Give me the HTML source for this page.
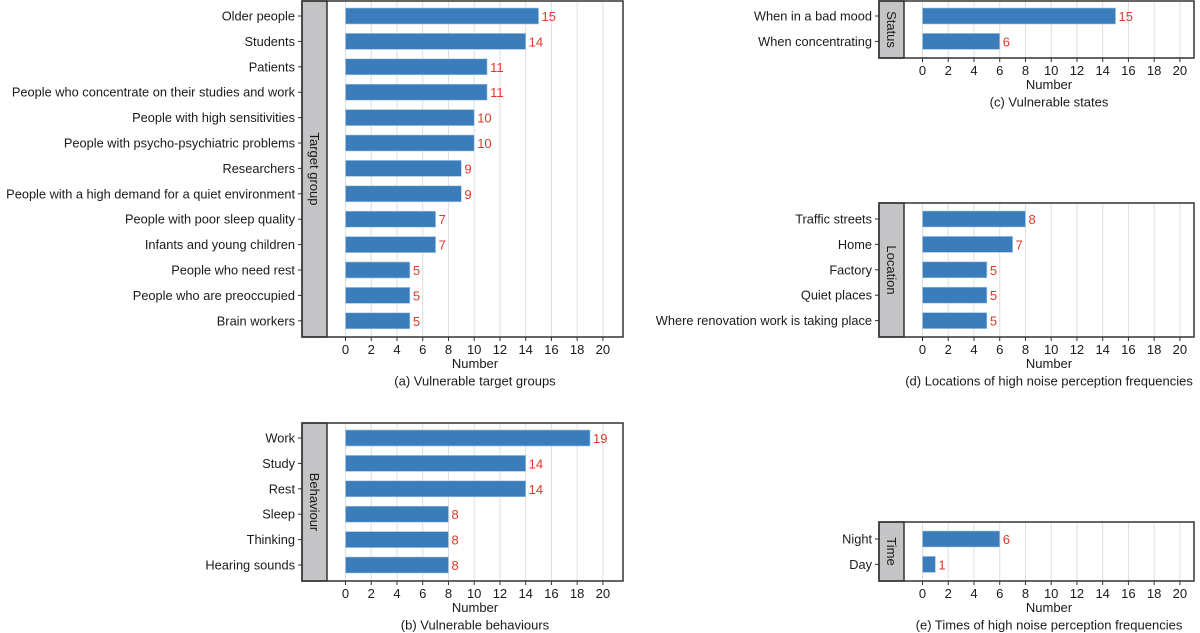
<!DOCTYPE html>
<html><head><meta charset="utf-8"><style>
html,body{margin:0;padding:0;background:#fff;}
svg{display:block;font-family:"Liberation Sans",Arial,sans-serif;}
</style></head><body>
<svg id="chart" width="1200" height="633" viewBox="0 0 1200 633"></svg>
<script>
const catsA=["Older people","Students","Patients","People who concentrate on their studies and work","People with high sensitivities","People with psycho-psychiatric problems","Researchers","People with a high demand for a quiet environment","People with poor sleep quality","Infants and young children","People who need rest","People who are preoccupied","Brain workers"];
const valsA=[15,14,11,11,10,10,9,9,7,7,5,5,5];
const catsB=["Work","Study","Rest","Sleep","Thinking","Hearing sounds"];
const valsB=[19,14,14,8,8,8];
const catsC=["When in a bad mood","When concentrating"];
const valsC=[15,6];
const catsD=["Traffic streets","Home","Factory","Quiet places","Where renovation work is taking place"];
const valsD=[8,7,5,5,5];
const catsE=["Night","Day"];
const valsE=[6,1];
const ticks=[0,2,4,6,8,10,12,14,16,18,20];

const svg=document.getElementById('chart');
const NS="http://www.w3.org/2000/svg";
function mk(tag,attrs,parent,text){const e=document.createElementNS(NS,tag);for(const k in attrs)e.setAttribute(k,attrs[k]);if(text!==undefined)e.textContent=text;parent.appendChild(e);return e;}

function panel(name,cats,vals,strip,caption,boxL,boxR,boxT,boxB,firstY){
  const g=mk('g',{},svg);
  
  
  const stripR=boxL+25;
  const x0=boxL+43.5, unit=12.87;
  const xs=v=>x0+v*unit;
  const step=25.4;
  const ys=i=>firstY+i*step;
  const plot=mk('rect',{x:stripR,y:boxT,width:boxR-stripR,height:boxB-boxT,fill:'#fff'},g);
  
  
  ticks.forEach(t=>{
    const l=mk('line',{x1:xs(t),x2:xs(t),y1:boxT,y2:boxB,stroke:'#dedede','stroke-width':1},g);
    
    
  });
  const st=mk('rect',{x:boxL,y:boxT,width:25,height:boxB-boxT,fill:'#c4c4c6',stroke:'#333','stroke-width':1.5},g);
  
  
  const cy=(boxT+boxB)/2, cx=boxL+12.5;
  const stt=mk('text',{x:cx,y:cy,transform:`rotate(90 ${cx} ${cy})`,'text-anchor':'middle','dominant-baseline':'central','font-size':13,fill:'#1a1a1a'},g,strip);
  
  
  const box=mk('rect',{x:boxL,y:boxT,width:boxR-boxL,height:boxB-boxT,fill:'none',stroke:'#333','stroke-width':1.5},g);
  
  
  cats.forEach((c,i)=>{
    const y=ys(i);
    const b=mk('rect',{x:xs(0),y:y-8,width:xs(vals[i])-xs(0),height:16,fill:'#3a7dba',stroke:'#a9c9e6','stroke-width':0.6},g);
    
    
    const v=mk('text',{x:xs(vals[i])+3,y:y+5,'font-size':13,fill:'#e0372a'},g,String(vals[i]));
    
    
    mk('line',{x1:boxL-4,x2:boxL,y1:y,y2:y,stroke:'#333','stroke-width':1},g);
    const lt=mk('text',{x:boxL-7,y:y+4.5,'text-anchor':'end','font-size':12.8,fill:'#1a1a1a'},g,c);
    
    
  });
  ticks.forEach(t=>{
    mk('line',{x1:xs(t),x2:xs(t),y1:boxB,y2:boxB+4,stroke:'#333','stroke-width':1},g);
    const tt=mk('text',{x:xs(t),y:boxB+17,'text-anchor':'middle','font-size':13,fill:'#1a1a1a'},g,String(t));
    
    
  });
  const mid=(stripR+boxR)/2;
  const xt=mk('text',{x:mid,y:boxB+31,'text-anchor':'middle','font-size':13,fill:'#1a1a1a'},g,'Number');
  
  
  const cp=mk('text',{x:mid,y:boxB+48.5,'text-anchor':'middle','font-size':13,fill:'#1a1a1a'},g,caption);
  
  
}
panel('target-groups',catsA,valsA,'Target group','(a) Vulnerable target groups',302,623,1,337,16);
panel('behaviours',catsB,valsB,'Behaviour','(b) Vulnerable behaviours',302,623,423,581,438);
panel('states',catsC,valsC,'Status','(c) Vulnerable states',879,1194,1,58,16);
panel('locations',catsD,valsD,'Location','(d) Locations of high noise perception frequencies',879,1194,203,337,219);
panel('times',catsE,valsE,'Time','(e) Times of high noise perception frequencies',879,1194,522,581,539);
</script>
</body></html>
